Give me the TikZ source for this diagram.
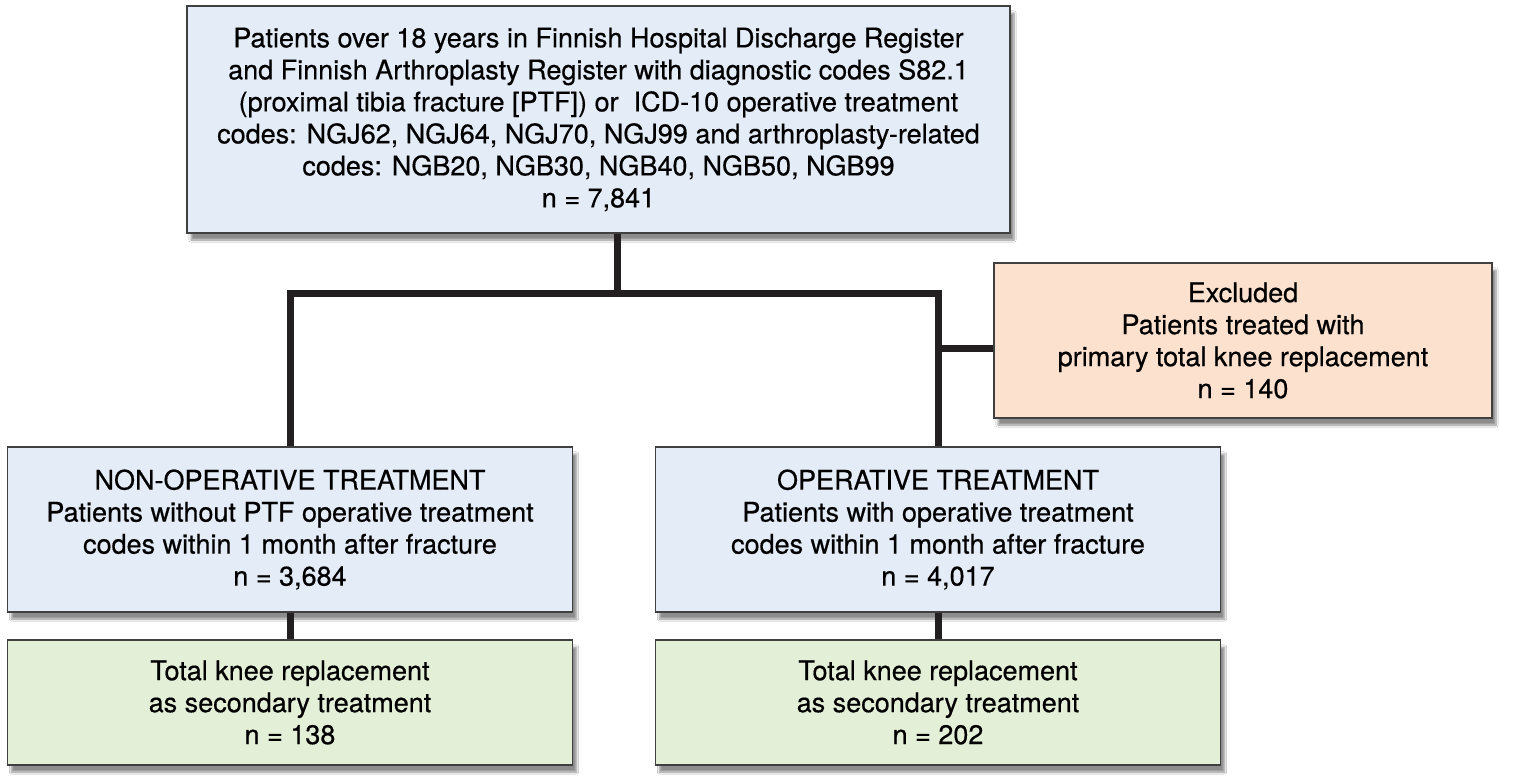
\documentclass[tikz,border=0pt]{standalone}
\usepackage{fontspec}
\setmainfont{TeX Gyre Heros}[UprightFeatures={FakeBold=0.5}]
\usetikzlibrary{shadows.blur}
\definecolor{boxblue}{HTML}{E4ECF7}
\definecolor{boxorange}{HTML}{FDE1CF}
\definecolor{boxgreen}{HTML}{E4EFD8}
\definecolor{linkgray}{HTML}{231F20}
\tikzset{
  flowbox/.style={draw=black!75,line width=1.3pt,align=center,inner sep=0pt,
    font=\fontsize{27}{32}\selectfont,
    execute at begin node={\rule{0pt}{30pt}},
    blur shadow={shadow xshift=4pt,shadow yshift=-7pt,shadow blur steps=8,shadow opacity=45}},
  bluebox/.style={flowbox,fill=boxblue},
  exclbox/.style={flowbox,fill=boxorange},
  greenbox/.style={flowbox,fill=boxgreen},
  link/.style={draw=linkgray,line width=7pt}
}

\begin{document}
\begin{tikzpicture}[x=1pt,y=-1pt]
  \useasboundingbox[fill=white] (0,0) rectangle (1516,780);
  % boxes
  \node[bluebox,minimum width=823,minimum height=227] (patients) at (598.5,119.5)
    {Patients over 18 years in Finnish Hospital Discharge Register\\
     and Finnish Arthroplasty Register with diagnostic codes S82.1\\
     (proximal tibia fracture [PTF]) or\ \ ICD-10 operative treatment\\
     codes: NGJ62, NGJ64, NGJ70, NGJ99 and arthroplasty-related\\
     codes: NGB20, NGB30, NGB40, NGB50, NGB99\\
     n = 7,841};
  \node[exclbox,minimum width=498,minimum height=155] (excluded) at (1243,340.5)
    {Excluded\\ Patients treated with\\ primary total knee replacement\\ n = 140};
  \node[bluebox,minimum width=565,minimum height=165] (nonop) at (290,529.5)
    {NON-OPERATIVE TREATMENT\\ Patients without PTF operative treatment\\
     codes within 1 month after fracture\\ n = 3,684};
  \node[bluebox,minimum width=565,minimum height=165] (oper) at (938,529.5)
    {OPERATIVE TREATMENT\\ Patients with operative treatment\\
     codes within 1 month after fracture\\ n = 4,017};
  \node[greenbox,minimum width=565,minimum height=125] (tkrnonop) at (290,702.5)
    {Total knee replacement\\ as secondary treatment\\ n = 138};
  \node[greenbox,minimum width=565,minimum height=125] (tkroper) at (938,702.5)
    {Total knee replacement\\ as secondary treatment\\ n = 202};
  % connectors
  \coordinate (split) at (617,293);
  \draw[link] (patients.south -| split) -- (split);
  \draw[link] (nonop.north) |- (split) -| (oper.north);
  \draw[link] ([yshift=-8pt]excluded.west) -- ([yshift=-8pt]excluded.west -| oper.north);
  \draw[link] (nonop.south) -- (tkrnonop.north);
  \draw[link] (oper.south) -- (tkroper.north);
\end{tikzpicture}
\end{document}
